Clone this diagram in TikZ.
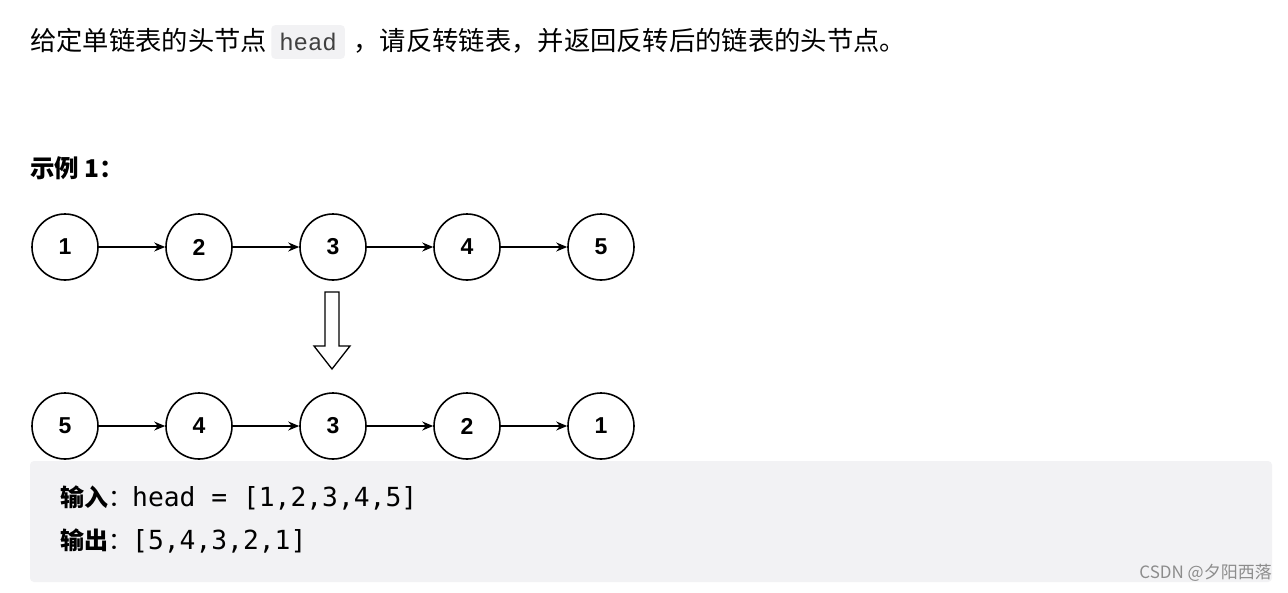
\documentclass[tikz,border=0pt]{standalone}
\usepackage{fontspec}
\setmainfont{Noto Sans CJK SC}
\newfontfamily\digfont{Liberation Sans}
\newfontfamily\codefont{DejaVu Sans Mono}
\newfontfamily\chipfont{Liberation Mono}
\usetikzlibrary{arrows.meta}
\definecolor{codebg}{HTML}{F2F2F4}
\begin{document}
\begin{tikzpicture}[x=1pt,y=-1pt,
  lnode/.style={circle,draw,line width=1.6pt,minimum size=66pt,inner sep=0pt,font=\digfont\bfseries\fontsize{23}{23}\selectfont},
  link/.style={line width=1.2pt,-{Stealth[length=11pt,width=9pt]}}]
\useasboundingbox (0,0) rectangle (1288,592);
\fill[white] (0,0) rectangle (1288,592);
\node[anchor=west,inner sep=0pt,font=\fontsize{26.3}{28}\selectfont] (t1) at (30,42) {给定单链表的头节点\,\tikz[baseline=(c.base)]\node[fill=codebg,rounded corners=4pt,inner sep=8pt,font=\chipfont\fontsize{24}{24}\selectfont,text=black!75] (c) {head};\,\,，请反转链表，并返回反转后的链表的头节点。};
\node[anchor=west,inner sep=0pt,font=\bfseries\fontsize{24.5}{28}\selectfont] (ex) at (30,168) {示例 1：};
\foreach \v [count=\i] in {1,2,3,4,5} {
  \node[lnode] (a\i) at ({65+134*(\i-1)},247) {\v};
}
\foreach \v [count=\i] in {5,4,3,2,1} {
  \node[lnode] (b\i) at ({65+134*(\i-1)},426) {\v};
}
\foreach \i [evaluate=\i as \j using int(\i+1)] in {1,2,3,4} {
  \draw[link] (a\i) -- (a\j);
  \draw[link] (b\i) -- (b\j);
}
\draw[line width=1.3pt,fill=white] (325,292) -- (339,292) -- (339,346) -- (350,346) -- (332,369) -- (314,346) -- (325,346) -- cycle;
\fill[codebg,rounded corners=4pt] (30,461) rectangle (1272,582);
\node[anchor=west,inner sep=0pt,font=\fontsize{24}{28}\selectfont] (i1) at (60,498) {\textbf{输入}：{\codefont\fontsize{26.3}{28}\selectfont head = [1,2,3,4,5]}};
\node[anchor=west,inner sep=0pt,font=\fontsize{24}{28}\selectfont] (o1) at (60,541) {\textbf{输出}：{\codefont\fontsize{26.3}{28}\selectfont [5,4,3,2,1]}};
\node[anchor=east,inner sep=0pt,text=black!45,font=\fontsize{17}{18}\selectfont] (w) at (1272,573) {CSDN @夕阳西落};
\end{tikzpicture}
\end{document}
